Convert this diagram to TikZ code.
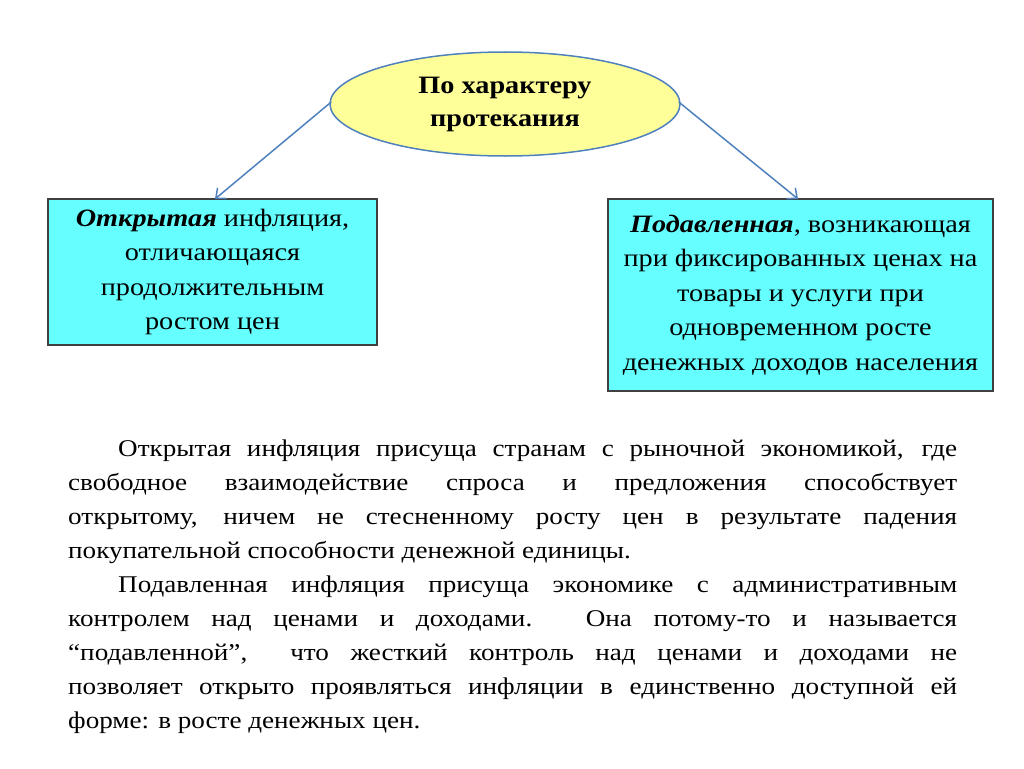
\documentclass[tikz,border=0pt]{standalone}
\usepackage{fontspec}
\setmainfont{Liberation Serif}[FakeStretch=1.13]
\usetikzlibrary{shapes.geometric,arrows.meta}
\definecolor{cy}{HTML}{66FFFF}
\definecolor{yl}{HTML}{FFFF99}
\definecolor{sb}{HTML}{4F81BD}
\tikzset{
 box/.style={draw=black!75,line width=1.2pt,fill=cy,align=center,font=\fontsize{25}{34.5}\selectfont},
 conn/.style={draw=sb,line width=1.5pt,-{Straight Barb[length=8pt,width=14pt]}}
}
\begin{document}
\begin{tikzpicture}[x=1pt,y=-1pt]
\useasboundingbox (0,0) rectangle (1024,768);
\node[ellipse,draw=sb,line width=1.5pt,fill=yl,minimum width=350,minimum height=104,align=center,font=\fontsize{25}{33}\selectfont\bfseries] (e) at (505,104) {По характеру\\протекания};
\node[box,minimum width=329,minimum height=146] (l) at (212.5,272) {\textbf{\textit{Открытая}} инфляция,\\отличающаяся\\продолжительным\\ростом цен};
\node[box,minimum width=385,minimum height=192] (r) at (800.5,295) {\textbf{\textit{Подавленная}}, возникающая\\при фиксированных ценах на\\товары и услуги при\\одновременном росте\\денежных доходов населения};
\coordinate (la) at (215,199);
\coordinate (ra) at (798,199);
\draw[conn] (e.west) ++(2,-2) -- (la);
\draw[conn] (e.east) ++(-2,-2) -- (ra);
\node[text width=889,align=justify,font=\fontsize{24}{34}\selectfont,anchor=north west,inner sep=0] (t) at (68,440) {\parindent=50pt\indent Открытая инфляция присуща странам с рыночной экономикой, где\linebreak свободное взаимодействие спроса и предложения способствует\linebreak открытому, ничем не стесненному росту цен в результате падения\linebreak покупательной способности денежной единицы.\par
\indent Подавленная инфляция присуща экономике с административным\linebreak контролем над ценами и доходами. Она потому-то и называется\linebreak “подавленной”,\ \ что жесткий контроль над ценами и доходами не\linebreak позволяет открыто проявляться инфляции в единственно доступной ей\linebreak форме: в росте денежных цен.\par};
\end{tikzpicture}
\end{document}
